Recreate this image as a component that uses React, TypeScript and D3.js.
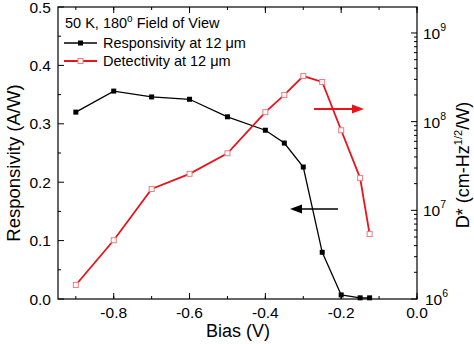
import React from "react";
import * as d3 from "d3";

const biasResp = [-0.9, -0.8, -0.7, -0.6, -0.5, -0.4, -0.35, -0.3, -0.25, -0.2, -0.15, -0.125];
const responsivity = [0.32, 0.356, 0.346, 0.342, 0.312, 0.289, 0.267, 0.226, 0.08, 0.007, 0.002, 0.002];
const biasDet = [-0.9, -0.8, -0.7, -0.6, -0.5, -0.4, -0.35, -0.3, -0.25, -0.2, -0.15, -0.125];
const detectivity = [1.44e6, 4.6e6, 1.74e7, 2.58e7, 4.4e7, 1.28e8, 2.0e8, 3.27e8, 2.8e8, 8.0e7, 2.31e7, 5.4e6];
const xTicks = [-0.8, -0.6, -0.4, -0.2, 0.0];
const yTicks = [0.0, 0.1, 0.2, 0.3, 0.4, 0.5];
const rightExps = [6, 7, 8, 9];

const W = 474, H = 344;
const L = 58, R = 417, T = 7, B = 299;
const RED = "#e8141c";
const FONT = "'Liberation Sans', Arial, Helvetica, sans-serif";

export default function App() {
  const x = d3.scaleLinear().domain([-0.947, 0]).range([L, R]);
  const y = d3.scaleLinear().domain([0, 0.5]).range([B, T]);
  const yr = d3.scaleLog().domain([1e6, Math.pow(10, 9.293)]).range([B, T]);

  const lineR = d3.line<number>().x((_, i) => x(biasResp[i])).y((d) => y(d));
  const lineD = d3.line<number>().x((_, i) => x(biasDet[i])).y((d) => yr(d));

  const xMinor = d3.range(-0.9, 0.001, 0.1).map((v) => +v.toFixed(2));
  const yMinor = d3.range(0.05, 0.5, 0.1).map((v) => +v.toFixed(2));
  const rMinor: number[] = [];
  for (let e = 6; e <= 9; e++) for (let m = 2; m <= 9; m++) {
    const v = m * Math.pow(10, e);
    if (v <= Math.pow(10, 9.293)) rMinor.push(v);
  }
  const ms = 5;

  return (
    <svg width={W} height={H} style={{ position: "absolute", left: 0, top: 0, background: "#fff" }} fontFamily={FONT}>
      <rect x={0} y={0} width={W} height={H} fill="#fff" />
      <rect x={L} y={T} width={R - L} height={B - T} fill="none" stroke="#000" strokeWidth={1.2} />
      {xMinor.map((v) => (
        <g key={"xm" + v}>
          <line x1={x(v)} x2={x(v)} y1={B} y2={B - 3} stroke="#000" />
          <line x1={x(v)} x2={x(v)} y1={T} y2={T + 3} stroke="#000" />
        </g>
      ))}
      {xTicks.map((v) => (
        <g key={"xt" + v}>
          <line x1={x(v)} x2={x(v)} y1={B} y2={B - 6} stroke="#000" />
          <line x1={x(v)} x2={x(v)} y1={T} y2={T + 6} stroke="#000" />
          <text x={x(v)} y={B + 18.5} fontSize={15.5} textAnchor="middle">{v === 0 ? "0.0" : v.toFixed(1)}</text>
        </g>
      ))}
      {yMinor.map((v) => (
        <line key={"ym" + v} x1={L} x2={L + 3} y1={y(v)} y2={y(v)} stroke="#000" />
      ))}
      {yTicks.map((v) => (
        <g key={"yt" + v}>
          <line x1={L} x2={L + 6} y1={y(v)} y2={y(v)} stroke="#000" />
          <text x={L - 7} y={y(v) + 5.5} fontSize={15.5} textAnchor="end">{v.toFixed(1)}</text>
        </g>
      ))}
      {rMinor.map((v) => (
        <line key={"rm" + v} x1={R} x2={R - 3} y1={yr(v)} y2={yr(v)} stroke="#000" />
      ))}
      {rightExps.map((e) => (
        <g key={"re" + e}>
          <line x1={R} x2={R - 6} y1={yr(Math.pow(10, e))} y2={yr(Math.pow(10, e))} stroke="#000" />
          <text x={R + (e === 6 ? 8 : 6)} y={yr(Math.pow(10, e)) + (e === 6 ? 5.5 : 6)} fontSize={15.5}>
            10<tspan dy={-8} fontSize={10.5}>{e}</tspan>
          </text>
        </g>
      ))}
      <text x={238} y={337} fontSize={18} textAnchor="middle">Bias (V)</text>
      <text transform={`translate(20,163) rotate(-90)`} fontSize={18.5} textAnchor="middle">Responsivity (A/W)</text>
      <text transform={`translate(469,165) rotate(-90)`} fontSize={18} textAnchor="middle">
        D* (cm-Hz<tspan dy={-7} fontSize={11}>1/2</tspan><tspan dy={7}>/W)</tspan>
      </text>
      <path d={lineR(responsivity) || ""} fill="none" stroke="#000" strokeWidth={1.3} />
      {responsivity.map((d, i) => (
        <rect key={"rp" + i} x={x(biasResp[i]) - ms / 2} y={y(d) - ms / 2} width={ms} height={ms} fill="#000" />
      ))}
      <path d={lineD(detectivity) || ""} fill="none" stroke={RED} strokeWidth={1.8} />
      {detectivity.map((d, i) => (
        <rect key={"dp" + i} x={x(biasDet[i]) - ms / 2} y={yr(d) - ms / 2} width={ms} height={ms} fill="#fff" stroke="#f07a80" strokeWidth={1} />
      ))}
      <line x1={314} x2={356} y1={109} y2={109} stroke={RED} strokeWidth={1.8} />
      <path d="M352,104.5 L364,109 L352,113.5 z" fill={RED} />
      <line x1={338} x2={298} y1={209} y2={209} stroke="#000" strokeWidth={1.5} />
      <path d="M302,204.5 L290,209 L302,213.5 z" fill="#000" />
      <text x={65} y={28} fontSize={14.5}>50 K, 180<tspan dy={-6} fontSize={10}>o</tspan><tspan dy={6}> Field of View</tspan></text>
      <line x1={64} x2={97} y1={43} y2={43} stroke="#000" strokeWidth={1.3} />
      <rect x={80.5 - ms / 2} y={43 - ms / 2} width={ms} height={ms} fill="#000" />
      <text x={103} y={48} fontSize={14.5}>Responsivity at 12 μm</text>
      <line x1={64} x2={97} y1={61} y2={61} stroke={RED} strokeWidth={1.8} />
      <rect x={80.5 - ms / 2} y={61 - ms / 2} width={ms} height={ms} fill="#fff" stroke="#f07a80" />
      <text x={103} y={66} fontSize={14.5}>Detectivity at 12 μm</text>
    </svg>
  );
}
